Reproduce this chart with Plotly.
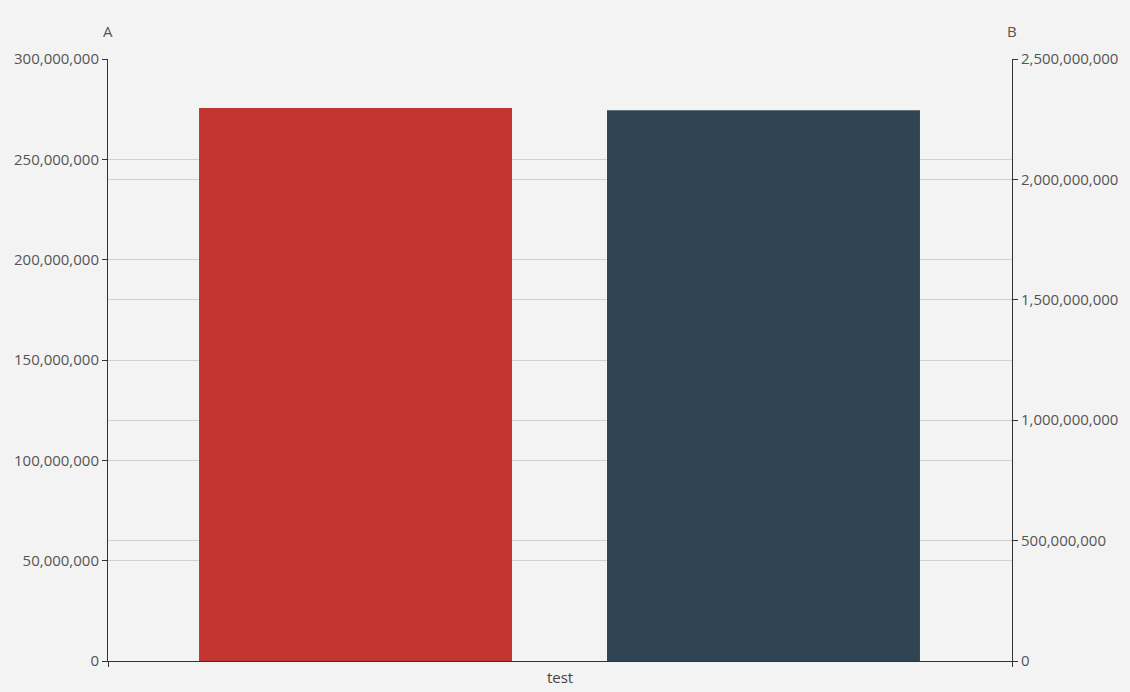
import plotly.graph_objects as go

categories = ["test"]
values_a = [275600000]
values_b = [2287000000]
axis_titles = ["A", "B"]

fig = go.Figure()
fig.add_trace(go.Bar(x=categories, y=values_a, name="A", yaxis="y",
                     marker=dict(color="#c23531", line=dict(width=0)),
                     width=0.3462, offset=-0.3993))
fig.add_trace(go.Bar(x=categories, y=values_b, name="B", yaxis="y2",
                     marker=dict(color="#2f4554", line=dict(width=0)),
                     width=0.3462, offset=0.052))

tick_font = dict(family="Open Sans, Noto Sans, sans-serif", size=15, color="#555")

fig.update_layout(
    width=1130, height=692,
    margin=dict(l=108, r=118, t=59, b=31),
    paper_bgcolor="#f3f3f3", plot_bgcolor="#f3f3f3",
    showlegend=False,
    xaxis=dict(type="category", showgrid=False, showline=True, linecolor="#333",
               linewidth=1, ticks="outside", tickson="boundaries", ticklen=5,
               tickcolor="#333", tickfont=dict(tick_font, color="#444"),
               ticklabelstandoff=3, range=[-0.5, 0.5], automargin=False),
    yaxis=dict(range=[0, 300000000], dtick=50000000, tickformat=",d",
               showline=True, linecolor="#333", linewidth=1, ticks="outside",
               ticklen=5, tickcolor="#333", gridcolor="#d0d0d0", zeroline=False,
               tickfont=tick_font, automargin=False),
    yaxis2=dict(range=[0, 2500000000], dtick=500000000, tickformat=",d",
                overlaying="y", side="right", showline=True, linecolor="#333",
                linewidth=1, ticks="outside", ticklen=5, tickcolor="#333",
                gridcolor="#d0d0d0", showgrid=True, zeroline=False,
                tickfont=tick_font, automargin=False),
    annotations=[
        dict(text=axis_titles[0], x=0, xref="paper", y=1, yref="paper",
             xanchor="center", yanchor="middle", yshift=28, showarrow=False,
             font=tick_font),
        dict(text=axis_titles[1], x=1, xref="paper", y=1, yref="paper",
             xanchor="center", yanchor="middle", yshift=28, showarrow=False,
             font=tick_font),
    ],
)

# the page has a default 8px body margin; drop it so the chart fills the window
fig.write_html("out.html", config={"displayModeBar": False},
               post_script="document.body.style.margin='0';"
                           "document.body.style.background='#f3f3f3';")
